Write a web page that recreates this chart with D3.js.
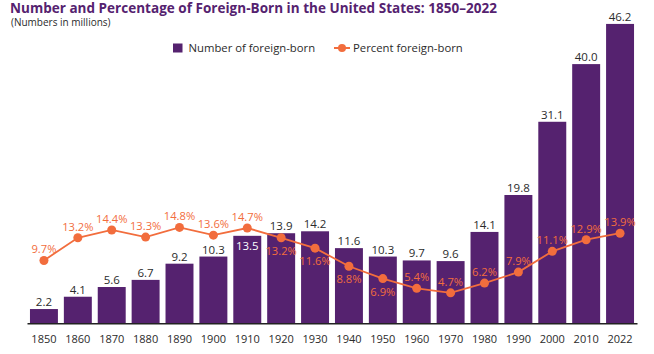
<!DOCTYPE html>
<html><head><meta charset="utf-8">
<script src="https://cdn.jsdelivr.net/npm/d3@7"></script>
<style>
html,body{margin:0;padding:0;background:#fff;}
svg{display:block;font-family:"Open Sans",sans-serif;}
</style></head>
<body>
<svg id="chart" width="654" height="354"></svg>
<script>
const years = ["1850","1860","1870","1880","1890","1900","1910","1920","1930","1940","1950","1960","1970","1980","1990","2000","2010","2022"];
const numbers = [2.2,4.1,5.6,6.7,9.2,10.3,13.5,13.9,14.2,11.6,10.3,9.7,9.6,14.1,19.8,31.1,40.0,46.2];
const percents = [9.7,13.2,14.4,13.3,14.8,13.6,14.7,13.2,11.6,8.8,6.9,5.4,4.7,6.2,7.9,11.1,12.9,13.9];
// label placement for percent: "a" above, "b" below
const pctPos = ["a","a","a","a","a","a","a","b","b","b","b","a","a","a","a","a","a","a"];
const insideBar = ["1910"];
const title = "Number and Percentage of Foreign-Born in the United States: 1850–2022";
const subtitle = "(Numbers in millions)";
const legendLabels = ["Number of foreign-born","Percent foreign-born"];

const purple = "#55226f", orange = "#f26d3d", textColor = "#2b2b2b";
const svg = d3.select("#chart");

const x = d3.scaleBand().domain(years).range([27, 637]).paddingInner(0.175).paddingOuter(0.0875);
const y = d3.scaleLinear().domain([0, 50]).range([323.3, -0.7]);

svg.append("text").attr("x", 10).attr("y", 12.5).attr("font-size", 13.5).attr("font-weight", 700)
  .attr("textLength", 487).attr("lengthAdjust", "spacing")
  .attr("fill", "#55226f").text(title);
svg.append("text").attr("x", 11).attr("y", 26).attr("font-size", 10).attr("fill", textColor).text(subtitle);

// legend
const lg = svg.append("g");
lg.append("rect").attr("x", 173).attr("y", 43.5).attr("width", 9.5).attr("height", 9).attr("fill", purple);
lg.append("text").attr("x", 188.5).attr("y", 51.5).attr("font-size", 11.3).attr("fill", textColor).text(legendLabels[0]);
lg.append("line").attr("x1", 334).attr("x2", 350).attr("y1", 48).attr("y2", 48).attr("stroke", orange).attr("stroke-width", 2);
lg.append("circle").attr("cx", 342).attr("cy", 48).attr("r", 4).attr("fill", orange);
lg.append("text").attr("x", 353).attr("y", 51.5).attr("font-size", 11.3).attr("fill", textColor).text(legendLabels[1]);

// bars
const data = years.map((yr, i) => ({yr, n: numbers[i], p: percents[i], pos: pctPos[i]}));
svg.append("g").selectAll("rect").data(data).join("rect")
  .attr("x", d => x(d.yr)).attr("width", x.bandwidth())
  .attr("y", d => y(d.n)).attr("height", d => y(0) - y(d.n)).attr("fill", purple);

// bar labels
svg.append("g").selectAll("text").data(data).join("text")
  .attr("x", d => x(d.yr) + x.bandwidth() / 2)
  .attr("y", d => insideBar.includes(d.yr) ? y(d.n) + 14 : y(d.n) - 3)
  .attr("text-anchor", "middle").attr("font-size", 11.5)
  .attr("fill", d => insideBar.includes(d.yr) ? "#fff" : textColor)
  .text(d => d.n.toFixed(1));

// axis
const xAxis = d3.axisBottom(x).tickSize(0).tickPadding(12);
const ax = svg.append("g").attr("transform", `translate(0,${y(0)})`).call(xAxis);
ax.select(".domain").attr("stroke", "#222").attr("stroke-width", 1.5);
ax.selectAll("text").attr("font-size", 11).attr("fill", textColor).attr("font-family", "Open Sans, sans-serif");

// line
const line = d3.line().x(d => x(d.yr) + x.bandwidth() / 2).y(d => y(d.p));
svg.append("path").datum(data).attr("d", line).attr("fill", "none").attr("stroke", orange).attr("stroke-width", 1.8);
svg.append("g").selectAll("circle").data(data).join("circle")
  .attr("cx", d => x(d.yr) + x.bandwidth() / 2).attr("cy", d => y(d.p)).attr("r", 4.5).attr("fill", orange);
svg.append("g").selectAll("text").data(data).join("text")
  .attr("x", d => x(d.yr) + x.bandwidth() / 2)
  .attr("y", d => d.pos === "a" ? y(d.p) - 7 : y(d.p) + 17)
  .attr("text-anchor", "middle").attr("font-size", 11.2).attr("fill", orange)
  .text(d => d.p.toFixed(1) + "%");
</script>
</body></html>
